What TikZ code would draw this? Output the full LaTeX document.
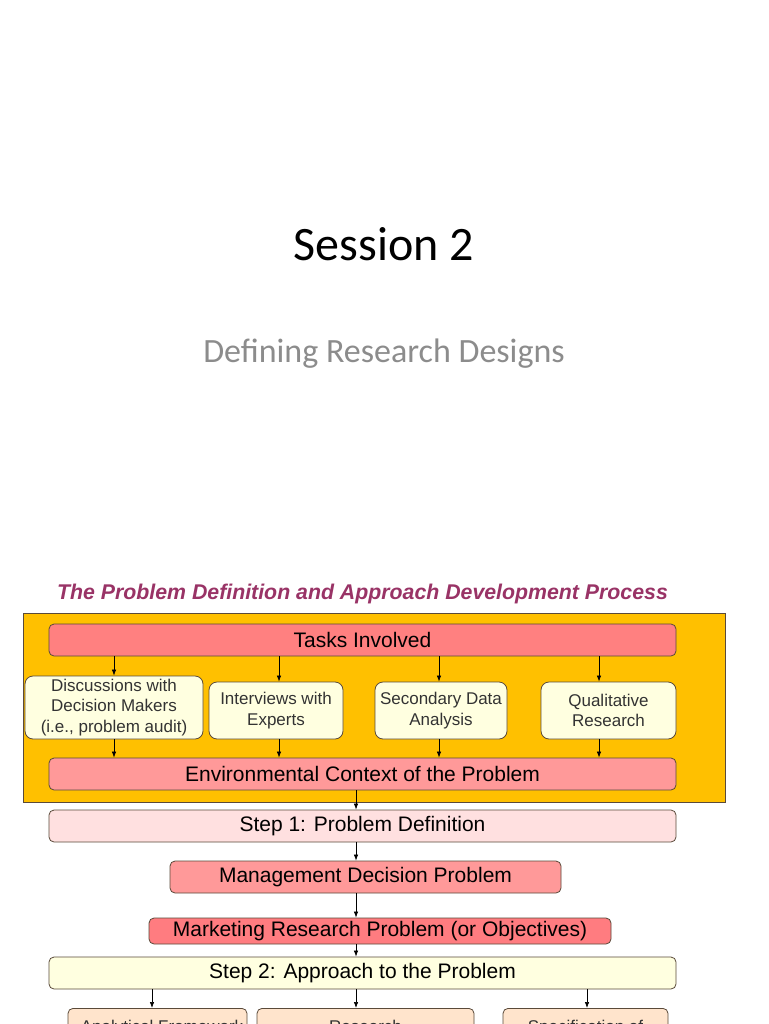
\documentclass[tikz,border=0pt]{standalone}
\usepackage{fontspec}
\setmainfont{Liberation Sans}
\newfontfamily\calfont{Carlito}
\usetikzlibrary{arrows.meta,calc}
\definecolor{orangebg}{HTML}{FFC000}
\definecolor{tasksred}{HTML}{FF8080}
\definecolor{envred}{HTML}{FF9999}
\definecolor{steponepink}{HTML}{FFE0E0}
\definecolor{mktred}{HTML}{FF7C80}
\definecolor{creambox}{HTML}{FFFFE0}
\definecolor{peachbox}{HTML}{FFE4CC}
\definecolor{edgebrown}{HTML}{5A4A3A}
\definecolor{headpurple}{HTML}{993366}
\definecolor{subgray}{HTML}{8C8C8C}
\definecolor{textgray}{HTML}{333333}
\tikzset{
  boxbase/.style={draw=edgebrown, line width=0.8pt, rounded corners=5pt, inner sep=0pt, align=center},
  bigbox/.style={boxbase, font=\fontsize{21}{24}\selectfont},
  smallbox/.style={boxbase, rounded corners=8pt, fill=creambox, text=textgray, font=\fontsize{17}{20.5}\selectfont},
  peach/.style={boxbase, fill=peachbox, minimum height=60pt, anchor=north},
  peachtext/.style={text=textgray, font=\fontsize{17}{20.5}\selectfont, anchor=base},
  arr/.style={-{Latex[length=6pt,width=4.5pt]}, line width=0.7pt, black},
}
\begin{document}
\begin{tikzpicture}[x=1pt,y=-1pt]
\useasboundingbox (0,0) rectangle (768,1024);
\fill[white] (0,0) rectangle (768,1024);
\begin{scope}
\clip (0,0) rectangle (768,1024);
% slide titles
\node (title) at (384,244) {\calfont\fontsize{48}{56}\selectfont Session 2};
\node[text=subgray] (subtitle) at (384,354) {\calfont\fontsize{34}{40}\selectfont Defining Research Designs};
% heading
\node[text=headpurple, font=\fontsize{21.3}{24}\selectfont\bfseries\itshape] (heading) at (362.5,594) {The Problem Definition and Approach Development Process};
% outer orange frame
\draw[fill=orangebg, draw=edgebrown, line width=1pt] (23,613) rectangle (725,802);
% boxes
\node[bigbox, fill=tasksred, minimum width=627pt, minimum height=32pt] (tasks) at (362.5,640) {Tasks Involved};
\node[smallbox, minimum width=178pt, minimum height=63pt] (d1) at (114,707.5) {Discussions with\\Decision Makers\\(i.e., problem audit)};
\node[smallbox, minimum width=134pt, minimum height=57pt] (d2) at (276,710.5) {Interviews with\\Experts};
\node[smallbox, minimum width=132pt, minimum height=57pt] (d3) at (441,710.5) {Secondary Data\\Analysis};
\node[smallbox, minimum width=135pt, minimum height=57pt] (d4) at (608.5,710.5) {Qualitative\\Research};
\node[bigbox, fill=envred, minimum width=627pt, minimum height=32pt] (env) at (362.5,774) {Environmental Context of the Problem};
\node[bigbox, fill=steponepink, minimum width=627pt, minimum height=32pt] (step1) at (362.5,826) {Step 1: Problem Definition};
\node[bigbox, fill=envred, minimum width=391pt, minimum height=32pt] (mgmt) at (365.5,877) {Management Decision Problem};
\node[bigbox, fill=mktred, minimum width=462pt, minimum height=26pt] (mkt) at (380,931) {Marketing Research Problem (or Objectives)};
\node[bigbox, fill=creambox, minimum width=627pt, minimum height=32pt] (step2) at (362.5,973) {Step 2: Approach to the Problem};
\node[peach, minimum width=179pt] (b1) at (157.5,1008) {};
\node[peach, minimum width=217pt] (b2) at (365.5,1008) {};
\node[peach, minimum width=165pt] (b3) at (585.5,1008) {};
\node[peachtext] (b1t) at (162,1032) {Analytical Framework};
\node[peachtext] (b2t) at (365.5,1032) {Research};
\node[peachtext] (b3t) at (585.5,1032) {Specification of};
% arrows
\foreach \b/\x in {d1/114, d2/279, d3/439, d4/599} {
  \draw[arr] (tasks.south -| \x,0) -- (\b.north -| \x,0);
  \draw[arr] (\b.south -| \x,0) -- (env.north -| \x,0);
}
\draw[arr] (env.south -| 356,0) -- (step1.north -| 356,0);
\draw[arr] (step1.south -| 356,0) -- (mgmt.north -| 356,0);
\draw[arr] (mgmt.south -| 356,0) -- (mkt.north -| 356,0);
\draw[arr] (mkt.south -| 356,0) -- (step2.north -| 356,0);
\draw[arr] (step2.south -| 152,0) -- (b1.north -| 152,0);
\draw[arr] (step2.south -| 356,0) -- (b2.north -| 356,0);
\draw[arr] (step2.south -| 587,0) -- (b3.north -| 587,0);
\end{scope}
\end{tikzpicture}
\end{document}
